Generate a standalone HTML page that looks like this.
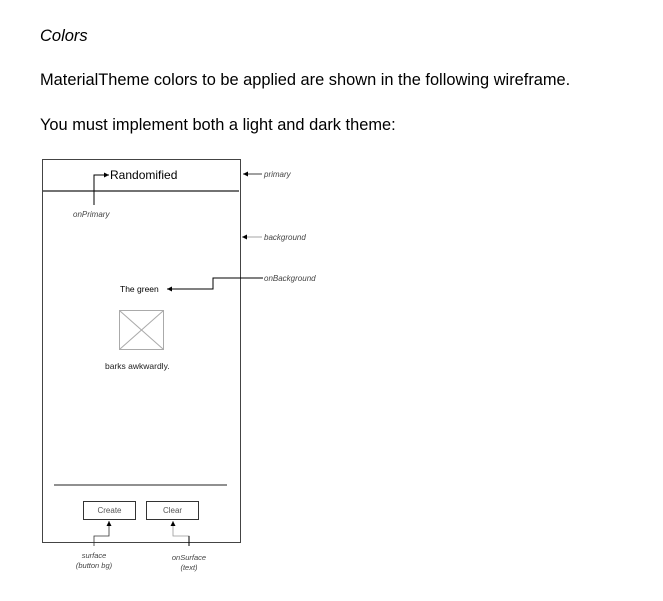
<!DOCTYPE html>
<html><head><meta charset="utf-8"><style>
html,body{margin:0;padding:0;background:#fff;width:663px;height:601px;overflow:hidden}
</style></head><body>
<svg width="663" height="601" viewBox="0 0 663 601" xmlns="http://www.w3.org/2000/svg" font-family="Liberation Sans, Arial, sans-serif">
<defs>
<marker id="a" markerWidth="6" markerHeight="6" refX="5" refY="3" orient="auto" markerUnits="userSpaceOnUse"><path d="M0,0.5 L5,3 L0,5.5z" fill="#000"/></marker>
</defs>
<text x="40" y="41" font-size="16.5" font-style="italic" fill="#000">Colors</text>
<text x="40" y="85" font-size="16.4" fill="#000">MaterialTheme colors to be applied are shown in the following wireframe.</text>
<text x="40" y="130" font-size="16.4" fill="#000">You must implement both a light and dark theme:</text>

<rect x="42.5" y="159.5" width="198" height="383" fill="none" stroke="#444" stroke-width="1"/>
<line x1="42" y1="191" x2="239" y2="191" stroke="#444" stroke-width="1.5"/>
<text x="110" y="179" font-size="12" fill="#000">Randomified</text>
<polyline points="94,205 94,175 109,175" fill="none" stroke="#000" stroke-width="1" marker-end="url(#a)"/>
<text x="73" y="217" font-size="8" font-style="italic" fill="#444">onPrimary</text>

<line x1="262" y1="174" x2="243" y2="174" stroke="#000" stroke-width="0.8" marker-end="url(#a)"/>
<text x="264" y="177" font-size="8" font-style="italic" fill="#444">primary</text>
<line x1="262" y1="237" x2="242" y2="237" stroke="#888" stroke-width="0.8" marker-end="url(#a)"/>
<text x="264" y="240" font-size="8" font-style="italic" fill="#444">background</text>
<polyline points="263,278 213,278 213,289 167,289" fill="none" stroke="#000" stroke-width="1" marker-end="url(#a)"/>
<text x="264" y="281" font-size="8" font-style="italic" fill="#444">onBackground</text>
<text x="120" y="292" font-size="8.5" fill="#000">The green</text>

<rect x="119.5" y="310.5" width="44" height="39" fill="none" stroke="#aaa" stroke-width="1"/>
<line x1="120" y1="311" x2="163" y2="349" stroke="#aaa"/>
<line x1="163" y1="311" x2="120" y2="349" stroke="#aaa"/>
<text x="105" y="369" font-size="8.5" fill="#222">barks awkwardly.</text>

<line x1="54" y1="485" x2="227" y2="485" stroke="#222" stroke-width="1"/>
<rect x="83.5" y="501.5" width="52" height="18" fill="#fff" stroke="#333" stroke-width="1"/>
<text x="109.5" y="513" font-size="8" fill="#555" text-anchor="middle">Create</text>
<rect x="146.5" y="501.5" width="52" height="18" fill="#fff" stroke="#333" stroke-width="1"/>
<text x="172.5" y="513" font-size="8" fill="#555" text-anchor="middle">Clear</text>

<polyline points="94,546 94,536 109,536 109,521" fill="none" stroke="#333" stroke-width="0.8" marker-end="url(#a)"/>
<polyline points="189,546 189,536 173,536 173,521" fill="none" stroke="#999" stroke-width="0.8" marker-end="url(#a)"/>
<line x1="189" y1="536" x2="189" y2="546" stroke="#000" stroke-width="1"/>
<text x="94" y="558" font-size="7.5" font-style="italic" fill="#444" text-anchor="middle">surface</text>
<text x="94" y="568" font-size="7.5" font-style="italic" fill="#444" text-anchor="middle">(button bg)</text>
<text x="189" y="560" font-size="7.5" font-style="italic" fill="#444" text-anchor="middle">onSurface</text>
<text x="189" y="570" font-size="7.5" font-style="italic" fill="#444" text-anchor="middle">(text)</text>
</svg>
</body></html>
